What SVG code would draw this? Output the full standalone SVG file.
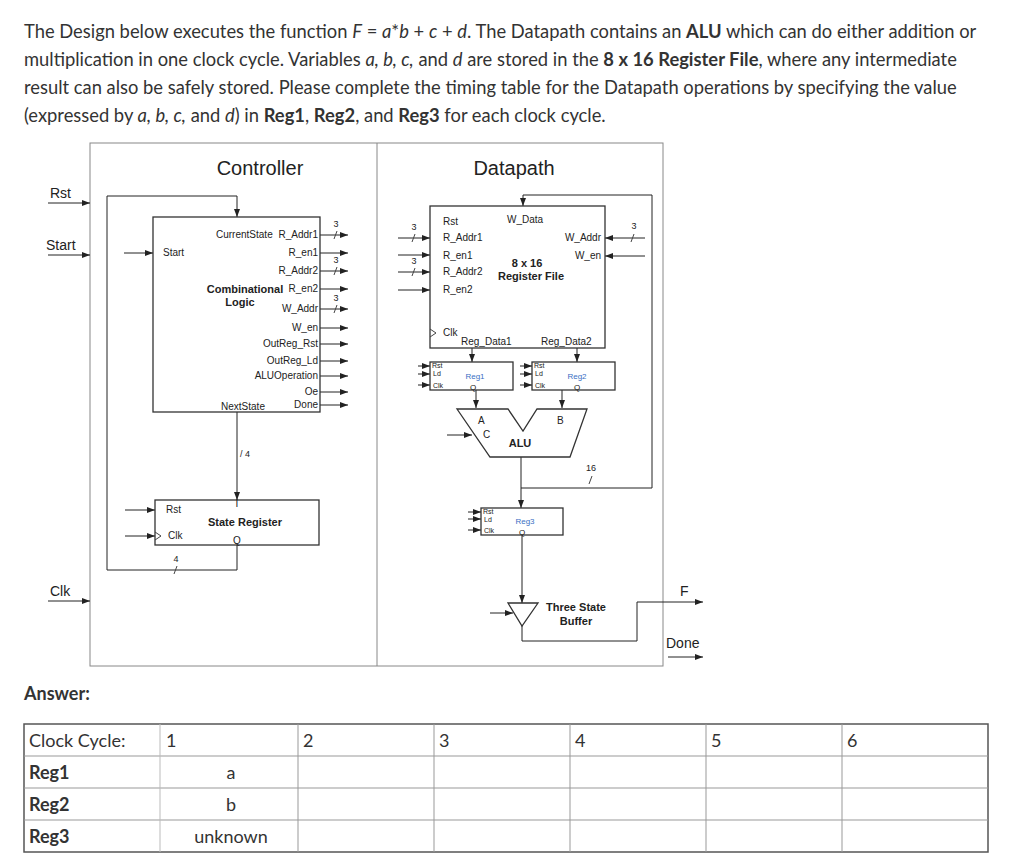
<svg xmlns="http://www.w3.org/2000/svg" width="1024" height="868" viewBox="0 0 1024 868">
<style>
.p{font-family:Lato,"Liberation Sans",sans-serif;font-size:18px;fill:#333}
.i{font-size:18.35px}
.b{font-weight:bold}
.d{font-family:"Liberation Sans",Arial,sans-serif;font-size:10px;fill:#222}
.s{font-family:"Liberation Sans",Arial,sans-serif;font-size:9px;fill:#222}
.xs{font-family:"Liberation Sans",Arial,sans-serif;font-size:7px;fill:#222}
.rs{font-family:"Liberation Sans",Arial,sans-serif;font-size:8px;fill:#222}
.t{font-family:"Liberation Sans",Arial,sans-serif;font-size:20px;fill:#222}
.big{font-family:"Liberation Sans",Arial,sans-serif;font-size:14px;fill:#222}
.bd{font-family:"Liberation Sans",Arial,sans-serif;font-size:11px;font-weight:bold;fill:#222}
.blue{fill:#3a6fc4}
.l{stroke:#444;stroke-width:1;fill:none}
.a{stroke:#222;stroke-width:1;fill:none;marker-end:url(#ar)}
.box{stroke:#333;stroke-width:1.3;fill:#fff}
.g{stroke:#888;stroke-width:1;fill:none}
</style>
<defs><marker id="ar" viewBox="0 0 8 6" refX="8" refY="3" markerWidth="8" markerHeight="6" orient="auto" markerUnits="userSpaceOnUse"><path d="M0,0L8,3L0,6z" fill="#222"/></marker></defs>
<rect width="1024" height="868" fill="#fff"/>
<g id="intro" class="p i">
<text x="24" y="38">The Design below executes the function <tspan font-style="italic">F</tspan> = <tspan font-style="italic">a</tspan>*<tspan font-style="italic">b</tspan> + <tspan font-style="italic">c</tspan> + <tspan font-style="italic">d</tspan>. The Datapath contains an <tspan class="b">ALU</tspan> which can do either addition or</text>
<text x="24" y="66">multiplication in one clock cycle. Variables <tspan font-style="italic">a, b, c,</tspan> and <tspan font-style="italic">d</tspan> are stored in the <tspan class="b">8 x 16 Register File</tspan>, where any intermediate</text>
<text x="24" y="94">result can also be safely stored. Please complete the timing table for the Datapath operations by specifying the value</text>
<text x="24" y="122">(expressed by <tspan font-style="italic">a, b, c,</tspan> and <tspan font-style="italic">d</tspan>) in <tspan class="b">Reg1</tspan>, <tspan class="b">Reg2</tspan>, and <tspan class="b">Reg3</tspan> for each clock cycle.</text>
</g>
<g id="frame"><rect x="90" y="143" width="573" height="523" class="g" stroke="#666"/><line x1="377" y1="143" x2="377" y2="666" class="g" stroke="#666"/>
<text x="260" y="175" class="t" text-anchor="middle">Controller</text><text x="514" y="175" class="t" text-anchor="middle">Datapath</text></g>
<g id="connectors">
<line x1="48" y1="203" x2="90" y2="203" class="a"/><text x="50" y="198" class="big">Rst</text>
<line x1="48" y1="255" x2="90" y2="255" class="a"/><text x="46" y="250" class="big">Start</text>
<line x1="48" y1="601" x2="90" y2="601" class="a"/><text x="50" y="596" class="big">Clk</text>
<path d="M237,543V570H107V196H237V217" class="a"/>
<line x1="237" y1="412" x2="237" y2="500" class="a"/>
<line x1="124" y1="253" x2="153" y2="253" class="a"/>
<line x1="125" y1="510" x2="155" y2="510" class="a"/>
<line x1="125" y1="536" x2="155" y2="536" class="a"/>
<g class="a"><line x1="320" y1="235" x2="348" y2="235"/><line x1="320" y1="253" x2="348" y2="253"/><line x1="320" y1="271" x2="348" y2="271"/><line x1="320" y1="289" x2="348" y2="289"/><line x1="320" y1="309" x2="348" y2="309"/><line x1="320" y1="328" x2="348" y2="328"/><line x1="320" y1="344" x2="348" y2="344"/><line x1="320" y1="361" x2="348" y2="361"/><line x1="320" y1="376" x2="348" y2="376"/><line x1="320" y1="392" x2="348" y2="392"/><line x1="320" y1="405" x2="348" y2="405"/></g>
<g class="l"><line x1="334" y1="239" x2="337" y2="231"/><line x1="334" y1="275" x2="337" y2="267"/><line x1="334" y1="313" x2="337" y2="305"/><line x1="174" y1="574" x2="177" y2="566"/></g>
<text x="336" y="227" class="s" text-anchor="middle">3</text><text x="336" y="263" class="s" text-anchor="middle">3</text><text x="336" y="301" class="s" text-anchor="middle">3</text><text x="176" y="562" class="s" text-anchor="middle">4</text><text x="240" y="457" class="s">/ 4</text>
<g class="a"><line x1="398" y1="238" x2="430" y2="238"/><line x1="398" y1="255" x2="430" y2="255"/><line x1="398" y1="272" x2="430" y2="272"/><line x1="398" y1="290" x2="430" y2="290"/><line x1="645" y1="238" x2="605" y2="238"/><line x1="645" y1="256" x2="605" y2="256"/></g>
<g class="l"><line x1="412" y1="242" x2="415" y2="234"/><line x1="412" y1="276" x2="415" y2="268"/><line x1="631" y1="242" x2="634" y2="234"/><line x1="589" y1="484" x2="592" y2="476"/></g>
<text x="414" y="230" class="s" text-anchor="middle">3</text><text x="414" y="264" class="s" text-anchor="middle">3</text><text x="634" y="229" class="s" text-anchor="middle">3</text><text x="591" y="471" class="s" text-anchor="middle">16</text>
<path d="M521,457V488H652V195H523V206" class="a"/>
<line x1="521" y1="488" x2="521" y2="508" class="a"/>
<line x1="472" y1="348" x2="472" y2="362" class="a"/><line x1="577" y1="348" x2="577" y2="362" class="a"/>
<line x1="476" y1="390" x2="476" y2="408" class="a"/><line x1="562" y1="390" x2="562" y2="408" class="a"/>
<line x1="447" y1="435" x2="472" y2="435" class="a"/>
<g class="a"><line x1="418" y1="366" x2="430" y2="366"/><line x1="418" y1="374" x2="430" y2="374"/><line x1="418" y1="385" x2="430" y2="385"/><line x1="520" y1="366" x2="532" y2="366"/><line x1="520" y1="374" x2="532" y2="374"/><line x1="520" y1="385" x2="532" y2="385"/><line x1="468" y1="512" x2="481" y2="512"/><line x1="468" y1="519" x2="481" y2="519"/><line x1="468" y1="530" x2="481" y2="530"/></g>
<line x1="522" y1="535" x2="522" y2="603" class="a"/>
<line x1="490" y1="613" x2="513" y2="613" class="a"/>
<path d="M522,626V641H637V602H703" class="a"/>
<line x1="668" y1="657" x2="703" y2="657" class="a"/>
<text x="680" y="596" class="big">F</text><text x="666" y="648" class="big">Done</text>
</g>
<g id="comb"><rect x="153" y="217" width="167" height="195" class="box"/>
<text x="163" y="256" class="d">Start</text>
<text x="216" y="238" class="d">CurrentState</text>
<g class="d" text-anchor="end"><text x="318" y="238">R_Addr1</text><text x="318" y="256">R_en1</text><text x="318" y="274">R_Addr2</text><text x="318" y="292">R_en2</text><text x="318" y="312">W_Addr</text><text x="318" y="331">W_en</text><text x="318" y="347">OutReg_Rst</text><text x="318" y="364">OutReg_Ld</text><text x="318" y="379">ALUOperation</text><text x="318" y="395">Oe</text><text x="318" y="408">Done</text></g>
<text x="245" y="293" class="bd" text-anchor="middle">Combinational</text><text x="240" y="306" class="bd" text-anchor="middle">Logic</text>
<text x="243" y="410" class="d" text-anchor="middle">NextState</text></g>
<g id="statereg"><rect x="155" y="500" width="164" height="45" class="box"/>
<text x="166" y="513" class="d">Rst</text><text x="168" y="539" class="d">Clk</text><path d="M155,532L161,536L155,540" class="l"/>
<text x="245" y="526" class="bd" text-anchor="middle">State Register</text><text x="237" y="544" class="d" text-anchor="middle">Q</text><text x="237" y="507" class="d" text-anchor="middle">I</text></g>
<g id="regfile"><rect x="430" y="206" width="175" height="142" class="box"/>
<g class="d"><text x="443" y="225">Rst</text><text x="443" y="241">R_Addr1</text><text x="443" y="259">R_en1</text><text x="443" y="275">R_Addr2</text><text x="443" y="293">R_en2</text><text x="443" y="336">Clk</text><text x="507" y="223">W_Data</text><text x="461" y="345">Reg_Data1</text><text x="541" y="345">Reg_Data2</text></g>
<path d="M430,329L436,333L430,337" class="l"/>
<g class="d" text-anchor="end"><text x="601" y="241">W_Addr</text><text x="601" y="259">W_en</text></g>
<text x="527" y="267" class="bd" text-anchor="middle">8 x 16</text><text x="531" y="280" class="bd" text-anchor="middle">Register File</text></g>
<g id="reg1"><rect x="430" y="362" width="83" height="28" class="box"/><text x="432" y="368" class="xs">Rst</text><text x="433" y="376" class="xs">Ld</text><text x="433" y="388" class="xs">Clk</text><text x="475" y="379" class="rs blue" text-anchor="middle">Reg1</text><text x="473" y="390" class="rs" text-anchor="middle">Q</text></g>
<g id="reg2"><rect x="532" y="362" width="83" height="28" class="box"/><text x="534" y="368" class="xs">Rst</text><text x="535" y="376" class="xs">Ld</text><text x="535" y="388" class="xs">Clk</text><text x="577" y="379" class="rs blue" text-anchor="middle">Reg2</text><text x="577" y="390" class="rs" text-anchor="middle">Q</text></g>
<g id="alu"><path d="M457,409H508L523,431L537,409H587L570,457H490Z" class="box"/>
<text x="478" y="424" class="d">A</text><text x="557" y="424" class="d">B</text><text x="483" y="438" class="d">C</text><text x="520" y="447" class="bd" text-anchor="middle">ALU</text></g>
<g id="reg3"><rect x="481" y="508" width="82" height="27" class="box"/><text x="483" y="514" class="xs">Rst</text><text x="484" y="522" class="xs">Ld</text><text x="484" y="533" class="xs">Clk</text><text x="525" y="524" class="rs blue" text-anchor="middle">Reg3</text><text x="522" y="535" class="rs" text-anchor="middle">Q</text></g>
<g id="buffer"><path d="M508,603H538L522,626Z" class="box"/><text x="576" y="611" class="bd" text-anchor="middle">Three State</text><text x="576" y="625" class="bd" text-anchor="middle">Buffer</text></g>
<text x="24" y="700" class="p b">Answer:</text>
<g id="table">
<rect x="24" y="724" width="964" height="128" fill="none" stroke="#555" stroke-width="1.5"/>
<g stroke="#999" stroke-width="1"><line x1="24" y1="756" x2="988" y2="756"/><line x1="24" y1="788" x2="988" y2="788"/><line x1="24" y1="820" x2="988" y2="820"/>
<line x1="298" y1="724" x2="298" y2="852"/><line x1="434" y1="724" x2="434" y2="852"/><line x1="570" y1="724" x2="570" y2="852"/><line x1="706" y1="724" x2="706" y2="852"/><line x1="842" y1="724" x2="842" y2="852"/><line x1="160" y1="724" x2="160" y2="852" stroke="#bbb"/></g>
<g class="p" fill="#222"><text x="29" y="747">Clock Cycle:</text><text x="166" y="747">1</text><text x="303" y="747">2</text><text x="439" y="747">3</text><text x="575" y="747">4</text><text x="711" y="747">5</text><text x="847" y="747">6</text>
<text x="29" y="779" class="b">Reg1</text><text x="29" y="811" class="b">Reg2</text><text x="29" y="843" class="b">Reg3</text>
<text x="231" y="779" text-anchor="middle">a</text><text x="231" y="811" text-anchor="middle">b</text><text x="231" y="843" text-anchor="middle">unknown</text></g>
</g>
</svg>
